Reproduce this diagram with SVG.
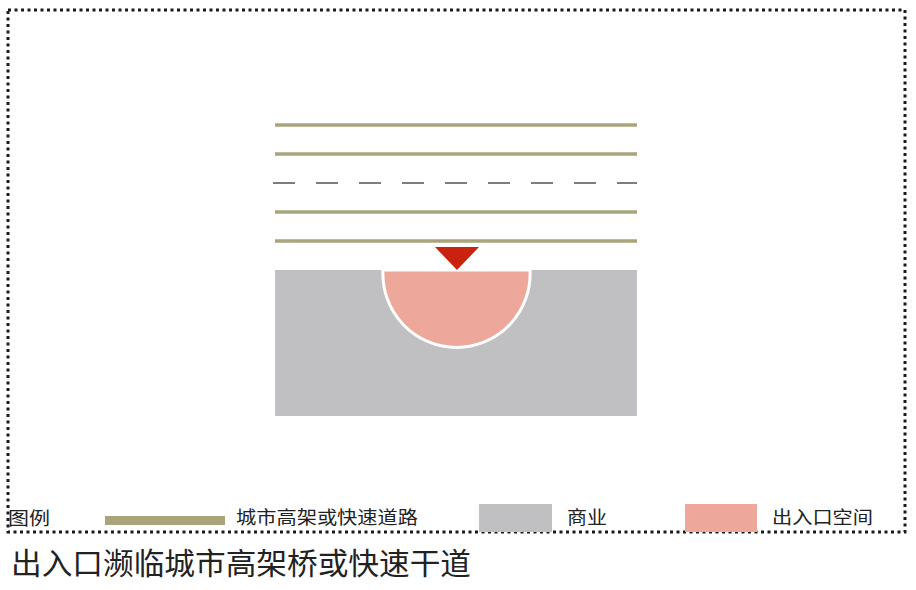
<svg xmlns="http://www.w3.org/2000/svg" width="916" height="590" viewBox="0 0 916 590">
<style>
.road{stroke:#a9a47c;stroke-width:3.5;fill:none}
.lane{stroke:#7d7d7d;stroke-width:2;stroke-dasharray:22 21;fill:none}
.t{font-family:"Noto Sans CJK SC","Liberation Sans",sans-serif;fill:#222}
.lg{font-size:18px}
</style>
<rect width="916" height="590" fill="#ffffff"/>
<rect id="frame" x="8" y="10" width="897" height="522" fill="none" stroke="#1a1a1a" stroke-width="3" stroke-dasharray="3 3.5"/>
<g id="connectors">
<line class="road" x1="275" y1="125" x2="637" y2="125"/>
<line class="road" x1="275" y1="154" x2="637" y2="154"/>
<line class="lane" x1="273" y1="183" x2="637" y2="183"/>
<line class="road" x1="275" y1="212" x2="637" y2="212"/>
<line class="road" x1="275" y1="241" x2="637" y2="241"/>
</g>
<g id="commerce">
<rect x="275" y="270" width="362" height="146" fill="#c0bfc2"/>
</g>
<g id="entrance">
<path d="M383 270 A73.6 73.6 0 1 0 530 270 Z" fill="#eea79b" stroke="#ffffff" stroke-width="3"/>
</g>
<g id="arrow">
<polygon points="435,247 479,247 457,270" fill="#c9230f"/>
</g>
<g id="legend">
<text class="t lg" x="8" y="525" textLength="42" lengthAdjust="spacingAndGlyphs">图例</text>
<rect x="105" y="516" width="120" height="9" fill="#a9a47c"/>
<text class="t lg" x="236" y="524" textLength="182" lengthAdjust="spacingAndGlyphs">城市高架或快速道路</text>
<rect x="479" y="504" width="73" height="28" fill="#c0bfc2"/>
<text class="t lg" x="567" y="524" textLength="40" lengthAdjust="spacingAndGlyphs">商业</text>
<rect x="685" y="504" width="72" height="28" fill="#eea79b"/>
<text class="t lg" x="772" y="524" textLength="101" lengthAdjust="spacingAndGlyphs">出入口空间</text>
</g>
<g id="title">
<text class="t" x="11" y="574" font-size="30" textLength="460" lengthAdjust="spacingAndGlyphs">出入口濒临城市高架桥或快速干道</text>
</g>
</svg>
